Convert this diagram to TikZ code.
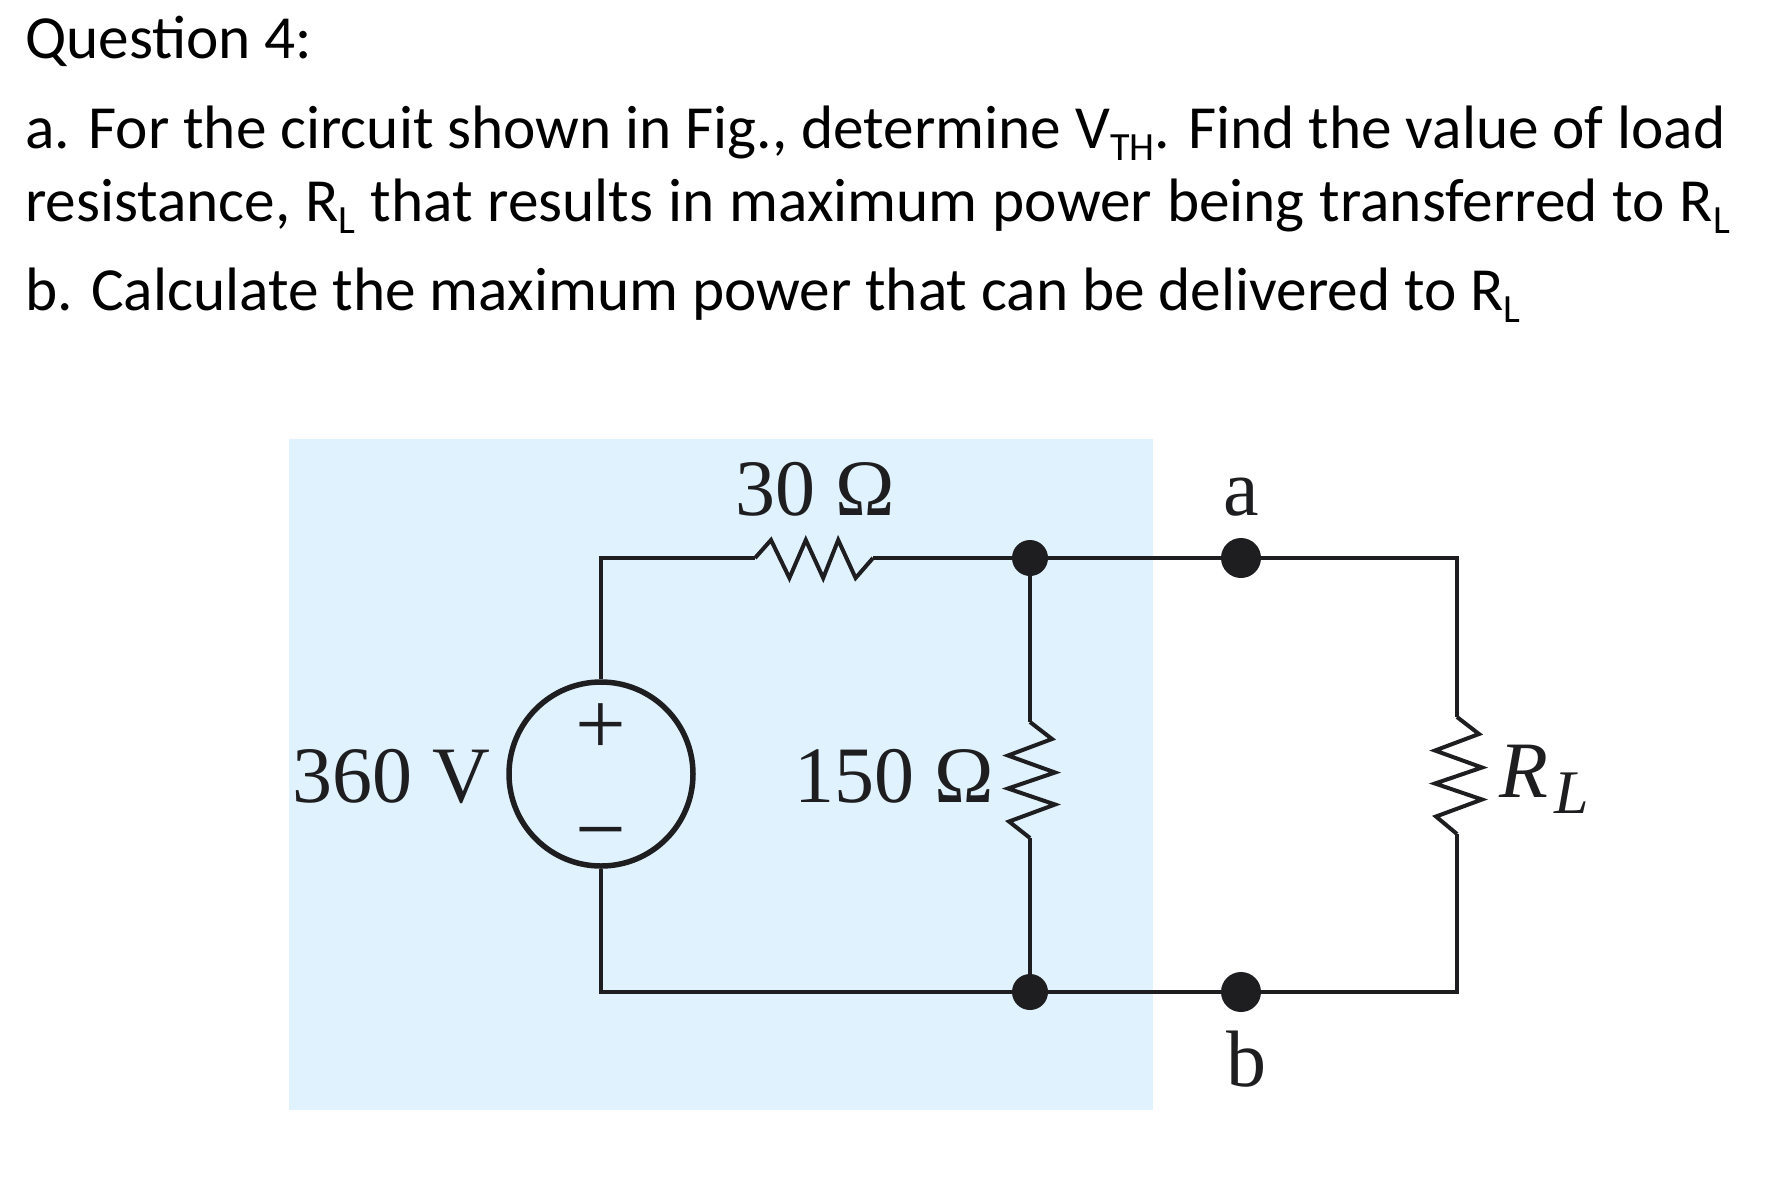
\documentclass[tikz,border=0pt]{standalone}
\usepackage{fontspec}
\setmainfont{Carlito}
\newfontfamily\circfont{Liberation Serif}
\definecolor{panelblue}{HTML}{DFF2FD}
\definecolor{inkblack}{HTML}{1E1E20}
\newcommand{\subL}[1]{\raisebox{-12pt}{\fontsize{40}{40}\selectfont #1}}
\tikzset{
  body/.style={anchor=base west,inner sep=0pt,text=black,font=\fontsize{61.3}{62}\selectfont},
  circ/.style={inner sep=0pt,text=inkblack,font=\circfont\fontsize{80}{80}\selectfont},
  wire/.style={draw=inkblack,line width=3.2pt,line join=miter},
  zig/.style={draw=inkblack,line width=4pt,line join=miter},
  bigdot/.style={circle,fill=inkblack,inner sep=0pt,minimum size=40pt},
  smalldot/.style={circle,fill=inkblack,inner sep=0pt,minimum size=36pt},
  source/.style={circle,draw=inkblack,line width=5.5pt,inner sep=0pt,minimum size=184pt},
  sign/.style={inner sep=0pt,text=inkblack,font=\circfont\fontsize{90}{90}\selectfont}
}
\begin{document}
\begin{tikzpicture}[x=1pt,y=-1pt]
\useasboundingbox (0,0) rectangle (1785,1184);
\fill[white] (0,0) rectangle (1785,1184);
\fill[panelblue] (289,439) rectangle (1153,1110);
% text
\node[body] (q) at (25,58) {Question 4:};
\node[body] (l1) at (25,148) {a. For the circuit shown in Fig., determine V\subL{TH}. Find the value of load};
\node[body] (l2) at (25,221) {\spaceskip=14.9pt resistance, R\subL{L} that results in maximum power being transferred to R\subL{L}};
\node[body] (l3) at (25,310) {b. Calculate the maximum power that can be delivered to R\subL{L}};
% junctions
\coordinate (tl) at (601,558);
\coordinate (bl) at (601,992);
\coordinate (tr) at (1457,558);
\coordinate (br) at (1457,992);
\node[source] (src) at (601,774) {};
\node[smalldot] (n1) at (1030,558) {};
\node[smalldot] (n2) at (1030,992) {};
\node[bigdot] (a) at (1241,558) {};
\node[bigdot] (b) at (1241,992) {};
\coordinate (r1s) at (755,558);
\coordinate (r1e) at (873,558);
\coordinate (r2s) at (1030,722);
\coordinate (r2e) at (1030,838);
\coordinate (r3s) at (1457,717);
\coordinate (r3e) at (1457,834);
% wires
\draw[wire] (src.north) -- (tl) -- (r1s);
\draw[wire] (r1e) -- (n1) -- (a) -- (tr) -- (r3s);
\draw[wire] (n1) -- (r2s);
\draw[wire] (r2e) -- (n2);
\draw[wire] (src.south) -- (bl) -- (n2) -- (b) -- (br) -- (r3e);
% resistors
\draw[zig] (r1s) -- ++(16,-18) -- ++(18.4,38) -- ++(16.4,-38) -- ++(17.4,38) -- ++(15,-38) -- ++(17.4,38) -- (r1e);
\draw[zig] (r2s) -- ++(22,17) -- ++(-44,16.5) -- ++(47,17) -- ++(-47,16) -- ++(47,16) -- ++(-46,17) -- (r2e);
\draw[zig] (r3s) -- ++(22,17) -- ++(-44,16.5) -- ++(47,17) -- ++(-47,16) -- ++(47,16) -- ++(-46,17) -- (r3e);
% labels
\node[circ,anchor=base] (l30) at (815,515) {30 Ω};
\node[circ,anchor=base west] (l360) at (292,802) {360 V};
\node[circ,anchor=base west] (l150) at (794,802) {150 Ω};
\node[circ,anchor=base] (la) at (1241,515) {a};
\node[circ,anchor=base] (lb) at (1246,1086) {b};
\node[circ,anchor=base west] (lrl) at (1499,797) {\itshape R\kern6pt\raisebox{-16pt}{\fontsize{62}{62}\selectfont L}};
\node[sign] (plus) at (601,729) {+};
\node[sign] (minus) at (601,843) {−};
\end{tikzpicture}
\end{document}
